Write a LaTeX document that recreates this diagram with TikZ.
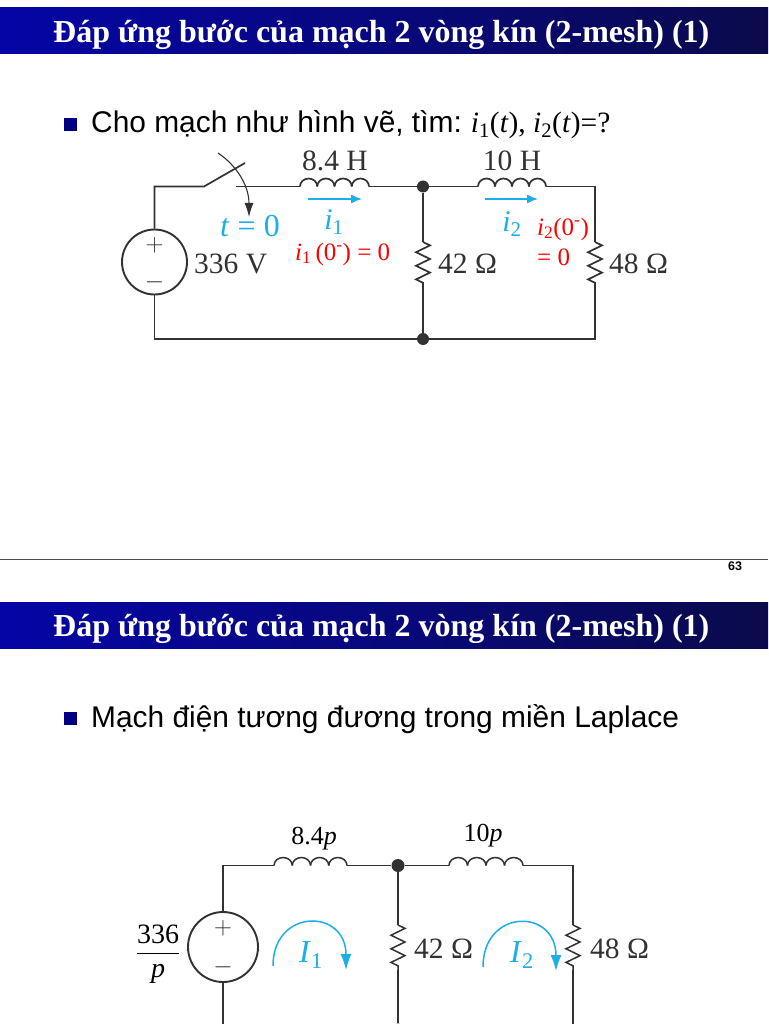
\documentclass[tikz,border=0pt]{standalone}
\usepackage{amsmath}
\usepackage{fontspec}
\setmainfont{Liberation Serif}
\newfontfamily\bodysans{Liberation Sans}
\usetikzlibrary{calc}
\usetikzlibrary{arrows.meta}
\usetikzlibrary{decorations.pathmorphing}
\definecolor{barblue}{RGB}{5,5,165}
\definecolor{barmid}{RGB}{8,8,125}
\definecolor{barnavy}{RGB}{10,10,75}
\definecolor{bulletblue}{RGB}{0,0,128}
\definecolor{wirecol}{RGB}{50,50,50}
\definecolor{mesh}{RGB}{28,174,230}
\tikzset{
	wire/.style={draw=wirecol,line width=1.7pt},
	thinwire/.style={draw=wirecol,line width=1.5pt},
	source/.style={circle,draw=wirecol,line width=1.9pt,minimum size=#1,inner sep=0pt},
	joint/.style={circle,fill=wirecol,minimum size=#1,inner sep=0pt},
	res/.style={decorate,decoration={zigzag,segment length=13.6pt,amplitude=7pt}},
	val/.style={text=wirecol,font=\fontsize{29.5}{34}\selectfont,inner sep=0pt},
	mathval/.style={text=black,font=\fontsize{26}{30}\selectfont,inner sep=0pt},
	cyanlabel/.style={text=mesh,font=\fontsize{32}{36}\selectfont,inner sep=0pt},
	redlabel/.style={text=red,font=\fontsize{25}{30}\selectfont,inner sep=0pt},
	sign/.style={text=wirecol,font=\fontsize{24}{28}\selectfont,inner sep=0pt},
	flow/.style={draw=mesh,line width=1.3pt,-{Latex[length=11pt,width=9pt]}},
	meshflow/.style={draw=mesh,line width=1.5pt,-{Latex[length=16pt,width=11pt]}},
	titlebar/.style={left color=barblue,right color=barnavy,middle color=barmid,draw=none},
	titletext/.style={text=white,font=\fontsize{32}{36}\selectfont\bfseries,inner sep=0pt,anchor=west},
	bullet/.style={fill=bulletblue,minimum size=13pt,inner sep=0pt},
	bodytext/.style={text=black,font=\bodysans\fontsize{29.9}{34}\selectfont,inner sep=0pt,anchor=west},
	pics/coil/.style 2 args={code={
		\foreach \k in {0,1,2,3}
			\draw[#1] (\k*#2/4,0) arc[start angle=180,end angle=360,x radius=#2/8,y radius=8];
	}},
}
\begin{document}
\begin{tikzpicture}[x=1pt,y=-1pt]
	\useasboundingbox (0,0) rectangle (768,1024);
	\clip (0,0) rectangle (768,1024);
	\fill[white] (0,0) rectangle (768,1024);
	% first slide
	\path[titlebar] (0,8) rectangle (768,54);
	\node[titletext] (title1) at (53,34.5) {Đáp ứng bước của mạch 2 vòng kín (2-mesh) (1)};
	\node[bullet] (bul1) at (70.5,124.5) {};
	\node[bodytext] (task) at (91,125) {Cho mạch như hình vẽ, tìm:\hspace{-2pt} {\rmfamily\fontsize{29.5}{30}\selectfont\textit{i}\textsubscript{1}(\textit{t}), \textit{i}\textsubscript{2}(\textit{t})=?}};
	% footer
	\draw[draw=black!70,line width=1pt] (0,559) -- (768,559);
	\node[inner sep=0pt,font=\bodysans\bfseries\fontsize{12.5}{14}\selectfont] (pageno) at (735,566.5) {63};
	% circuit in time domain
	\node[source=65pt] (V1) at (154.5,262) {};
	\node[sign] (V1p) at (154.5,245) {$+$};
	\node[sign] (V1m) at (154.5,282) {$-$};
	\node[joint=12pt] (n1) at (423,186.5) {};
	\node[joint=12pt] (n2) at (423,339) {};
	\coordinate (swa) at (204,186.5);
	\coordinate (swb) at (245,163);
	\coordinate (swc) at (236,186.5);
	\coordinate (L1a) at (300,186.5);
	\coordinate (L1b) at (369,186.5);
	\coordinate (L2a) at (478,186.5);
	\coordinate (L2b) at (546,186.5);
	\coordinate (R1a) at (423,242);
	\coordinate (R1b) at (423,283);
	\coordinate (R2a) at (595,242);
	\coordinate (R2b) at (595,283);
	\draw[wire] (V1.north) |- (swa) -- (swb);
	\draw[wire] (swc) -- (L1a);
	\draw[wire] (L1b) -- (n1) -- (L2a);
	\draw[wire] (L2b) -| (R2a);
	\draw[wire] (n1) -- (R1a);
	\draw[wire,res] (R1a) -- (R1b);
	\draw[wire] (R1b) -- (n2);
	\draw[wire,res] (R2a) -- (R2b);
	\draw[wire] (R2b) |- (n2);
	\draw[wire] (V1.south) |- (n2);
	\pic at (L1a) {coil={wire}{69}};
	\pic at (L2a) {coil={wire}{68}};
	\coordinate (swt) at (218,153);
	\coordinate (swh) at (249,217);
	\draw[draw=wirecol,line width=1.1pt,-{Latex[length=14pt,width=9pt]}] (swt) .. controls (236,165) and (249,185) .. (swh);
	\coordinate (f1a) at (308,199);
	\coordinate (f1b) at (362,199);
	\coordinate (f2a) at (485,199);
	\coordinate (f2b) at (538,199);
	\draw[flow] (f1a) -- (f1b);
	\draw[flow] (f2a) -- (f2b);
	\node[val] (lbL1) at (335,161) {8.4 H};
	\node[val] (lbL2) at (512,161) {10 H};
	\node[val,anchor=west] (lbV1) at (194,264) {336 V};
	\node[val,anchor=west] (lbR1) at (438,264) {42 Ω};
	\node[val,anchor=west] (lbR2) at (609,264) {48 Ω};
	\node[cyanlabel] (lbt) at (250,226) {\textit{t} = 0};
	\node[cyanlabel,font=\fontsize{30}{34}\selectfont] (lbi1) at (334,222) {\textit{i}\textsubscript{1}};
	\node[cyanlabel,font=\fontsize{30}{34}\selectfont] (lbi2) at (512,224) {\textit{i}\textsubscript{2}};
	\node[redlabel,anchor=west] (ic1) at (295,254) {\textit{i}\textsubscript{1}\,(0\textsuperscript{-}) = 0};
	\node[redlabel,anchor=west] (ic2) at (537,229) {\textit{i}\textsubscript{2}(0\textsuperscript{-})};
	\node[redlabel,anchor=west] (ic2b) at (537,257) {= 0};
	% second slide
	\path[titlebar] (0,602) rectangle (768,648);
	\node[titletext] (title2) at (53,628.5) {Đáp ứng bước của mạch 2 vòng kín (2-mesh) (1)};
	\node[bullet] (bul2) at (70.5,718.5) {};
	\node[bodytext] (task2) at (91,719) {Mạch điện tương đương trong miền Laplace};
	% circuit in Laplace domain
	\node[source=70pt] (V2) at (223,947) {};
	\node[sign] (V2p) at (223,928) {$+$};
	\node[sign] (V2m) at (223,967) {$-$};
	\node[joint=13pt] (n3) at (398,865.5) {};
	\node[joint=13pt] (n4) at (398,1030) {};
	\coordinate (L3a) at (274,865.5);
	\coordinate (L3b) at (347,865.5);
	\coordinate (L4a) at (449,865.5);
	\coordinate (L4b) at (523,865.5);
	\coordinate (R3a) at (398,925);
	\coordinate (R3b) at (398,970);
	\coordinate (R4a) at (573,925);
	\coordinate (R4b) at (573,970);
	\draw[thinwire] (V2.north) |- (L3a);
	\draw[thinwire] (L3b) -- (n3) -- (L4a);
	\draw[thinwire] (L4b) -| (R4a);
	\draw[thinwire] (n3) -- (R3a);
	\draw[thinwire,res] (R3a) -- (R3b);
	\draw[thinwire] (R3b) -- (n4);
	\draw[thinwire,res] (R4a) -- (R4b);
	\draw[thinwire] (R4b) |- (n4);
	\draw[thinwire] (V2.south) |- (n4);
	\pic at (L3a) {coil={thinwire}{73}};
	\pic at (L4a) {coil={thinwire}{74}};
	\coordinate (m1a) at (273,966);
	\coordinate (m1b) at (346,970);
	\coordinate (m2a) at (483,967);
	\coordinate (m2b) at (556,971);
	\draw[meshflow] (m1a) .. controls (273,908) and (346,908) .. (m1b);
	\draw[meshflow] (m2a) .. controls (483,908) and (556,908) .. (m2b);
	\node[mathval] (lbL3) at (314,839) {8.4\textit{p}};
	\node[mathval] (lbL4) at (483,836) {10\textit{p}};
	\node[mathval,font=\fontsize{28}{32}\selectfont] (lbV2) at (158,954) {$\dfrac{\text{336}}{\text{\textit{p}}}$};
	\node[val,anchor=west] (lbR3) at (414,949) {42 Ω};
	\node[val,anchor=west] (lbR4) at (590,949) {48 Ω};
	\node[cyanlabel] (lbI1) at (311,955) {\textit{I}\textsubscript{1}};
	\node[cyanlabel] (lbI2) at (522,955) {\textit{I}\textsubscript{2}};
\end{tikzpicture}
\end{document}
